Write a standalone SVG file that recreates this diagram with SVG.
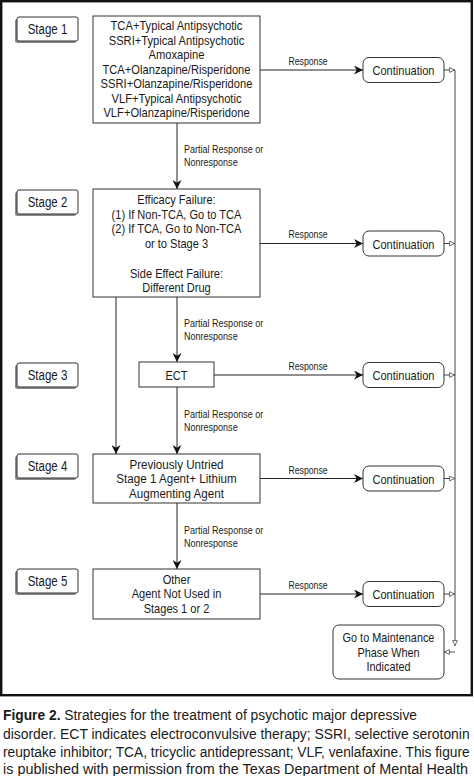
<svg xmlns="http://www.w3.org/2000/svg" width="474" height="776" viewBox="0 0 474 776">
<defs>
<style>
text{font-family:"Liberation Sans",Arial,sans-serif;fill:#1a1a1a}
.box{fill:#fff;stroke:#333;stroke-width:1}
.shadow{fill:#8a8a8a}
.t13{font-size:13px;text-anchor:middle}
.t12{font-size:12.5px;text-anchor:middle}
.stg{font-size:14px;text-anchor:middle}
.lbl{font-size:10.5px}
.cap{font-size:14.5px}
.ln{stroke:#222;stroke-width:1;fill:none}
.gl{stroke:#444;stroke-width:1;fill:none}
</style>
<marker id="fa" viewBox="0 0 10 10" refX="10" refY="5" markerWidth="10" markerHeight="9" markerUnits="userSpaceOnUse" orient="auto">
<path d="M0,0 L10,5 L0,10 L3,5 Z" fill="#111"/>
</marker>
<marker id="oa" viewBox="0 0 10 10" refX="10" refY="5" markerWidth="7" markerHeight="6" markerUnits="userSpaceOnUse" orient="auto">
<path d="M1,1 L9,5 L1,9 Z" fill="#fff" stroke="#444" stroke-width="1.3"/>
</marker>
</defs>
<rect x="0" y="0" width="474" height="776" fill="#fff"/>
<rect x="1.2" y="1.2" width="470.6" height="694" fill="none" stroke="#111" stroke-width="2.4"/>

<g id="stage1-label"><rect class="shadow" x="15" y="19" width="61" height="24" rx="2"/><rect class="box" x="17" y="17" width="61" height="24" rx="2"/><text class="stg" transform="translate(47.5 34) scale(0.82 1)">Stage 1</text></g>
<g id="stage2-label"><rect class="shadow" x="15" y="192" width="61" height="24" rx="2"/><rect class="box" x="17" y="190" width="61" height="24" rx="2"/><text class="stg" transform="translate(47.5 207) scale(0.82 1)">Stage 2</text></g>
<g id="stage3-label"><rect class="shadow" x="15" y="365" width="61" height="24" rx="2"/><rect class="box" x="17" y="363" width="61" height="24" rx="2"/><text class="stg" transform="translate(47.5 380) scale(0.82 1)">Stage 3</text></g>
<g id="stage4-label"><rect class="shadow" x="15" y="456" width="61" height="24" rx="2"/><rect class="box" x="17" y="454" width="61" height="24" rx="2"/><text class="stg" transform="translate(47.5 471) scale(0.82 1)">Stage 4</text></g>
<g id="stage5-label"><rect class="shadow" x="15" y="571" width="61" height="24" rx="2"/><rect class="box" x="17" y="569" width="61" height="24" rx="2"/><text class="stg" transform="translate(47.5 586) scale(0.82 1)">Stage 5</text></g>

<g id="connectors">
<line class="ln" x1="177" y1="123" x2="177" y2="189" marker-end="url(#fa)"/>
<line class="ln" x1="177" y1="297" x2="177" y2="362" marker-end="url(#fa)"/>
<line class="ln" x1="177" y1="387" x2="177" y2="454" marker-end="url(#fa)"/>
<line class="ln" x1="177" y1="503" x2="177" y2="569" marker-end="url(#fa)"/>
<line class="ln" x1="116" y1="297" x2="116" y2="454" marker-end="url(#fa)"/>
<line class="ln" x1="260" y1="70" x2="363" y2="70" marker-end="url(#fa)"/>
<line class="ln" x1="260" y1="243.5" x2="363" y2="243.5" marker-end="url(#fa)"/>
<line class="ln" x1="214" y1="375" x2="363" y2="375" marker-end="url(#fa)"/>
<line class="ln" x1="260" y1="478.5" x2="363" y2="478.5" marker-end="url(#fa)"/>
<line class="ln" x1="260" y1="594" x2="363" y2="594" marker-end="url(#fa)"/>
<line class="gl" x1="444" y1="70" x2="455" y2="70" marker-end="url(#oa)"/>
<line class="gl" x1="444" y1="243.5" x2="455" y2="243.5" marker-end="url(#oa)"/>
<line class="gl" x1="444" y1="375" x2="455" y2="375" marker-end="url(#oa)"/>
<line class="gl" x1="444" y1="478.5" x2="455" y2="478.5" marker-end="url(#oa)"/>
<line class="gl" x1="444" y1="594" x2="455" y2="594" marker-end="url(#oa)"/>
<line class="gl" x1="455" y1="70" x2="455" y2="646" marker-end="url(#oa)"/>
<line class="gl" x1="455" y1="652" x2="444" y2="652" marker-end="url(#oa)"/>
<g text-anchor="middle">
<text class="lbl" transform="translate(308 64.5) scale(0.83 1)">Response</text>
<text class="lbl" transform="translate(308 238) scale(0.83 1)">Response</text>
<text class="lbl" transform="translate(308 370) scale(0.83 1)">Response</text>
<text class="lbl" transform="translate(308 473.5) scale(0.83 1)">Response</text>
<text class="lbl" transform="translate(308 588.5) scale(0.83 1)">Response</text>
</g>
<g transform="translate(184 0) scale(0.86 1)">
<text class="lbl" x="0" y="153.5">Partial Response or</text>
<text class="lbl" x="0" y="166.5">Nonresponse</text>
<text class="lbl" x="0" y="327.5">Partial Response or</text>
<text class="lbl" x="0" y="340.5">Nonresponse</text>
<text class="lbl" x="0" y="418.5">Partial Response or</text>
<text class="lbl" x="0" y="431.5">Nonresponse</text>
<text class="lbl" x="0" y="534.5">Partial Response or</text>
<text class="lbl" x="0" y="547">Nonresponse</text>
</g>
</g>

<g id="stage1-box"><rect class="box" x="93" y="16" width="167" height="107"/>
<g transform="translate(176.5 0) scale(0.86 1)">
<text class="t13" x="0" y="30.5">TCA+Typical Antipsychotic</text>
<text class="t13" x="0" y="45">SSRI+Typical Antipsychotic</text>
<text class="t13" x="0" y="59.5">Amoxapine</text>
<text class="t13" x="0" y="74">TCA+Olanzapine/Risperidone</text>
<text class="t13" x="0" y="88.5">SSRI+Olanzapine/Risperidone</text>
<text class="t13" x="0" y="103">VLF+Typical Antipsychotic</text>
<text class="t13" x="0" y="117.5">VLF+Olanzapine/Risperidone</text>
</g></g>

<g id="stage2-box"><rect class="box" x="93" y="189" width="167" height="108"/>
<g transform="translate(176.5 0) scale(0.85 1)">
<text class="t13" x="0" y="204.5">Efficacy Failure:</text>
<text class="t13" x="0" y="219">(1) If Non-TCA, Go to TCA</text>
<text class="t13" x="0" y="233.5">(2) If TCA, Go to Non-TCA</text>
<text class="t13" x="0" y="248">or to Stage 3</text>
<text class="t13" x="0" y="278">Side Effect Failure:</text>
<text class="t13" x="0" y="292.5">Different Drug</text>
</g></g>

<g id="ect-box"><rect class="box" x="139" y="362" width="75" height="25"/>
<text class="t13" transform="translate(176.5 379.5) scale(0.85 1)">ECT</text></g>

<g id="stage4-box"><rect class="box" x="93" y="454" width="167" height="49"/>
<g transform="translate(176.5 0) scale(0.86 1)">
<text class="t13" x="0" y="468.5" style="font-size:13.5px">Previously Untried</text>
<text class="t13" x="0" y="483.5" style="font-size:13.5px">Stage 1 Agent+ Lithium</text>
<text class="t13" x="0" y="498" style="font-size:13.5px">Augmenting Agent</text>
</g></g>

<g id="stage5-box"><rect class="box" x="93" y="569" width="167" height="50"/>
<g transform="translate(176.5 0) scale(0.85 1)">
<text class="t13" x="0" y="584.5">Other</text>
<text class="t13" x="0" y="598.5">Agent Not Used in</text>
<text class="t13" x="0" y="613.5">Stages 1 or 2</text>
</g></g>

<g id="cont1"><rect class="box" x="363" y="57.5" width="81" height="25" rx="6"/><text class="t13" transform="translate(403.5 75) scale(0.85 1)">Continuation</text></g>
<g id="cont2"><rect class="box" x="363" y="231" width="81" height="25" rx="6"/><text class="t13" transform="translate(403.5 248.5) scale(0.85 1)">Continuation</text></g>
<g id="cont3"><rect class="box" x="363" y="362.5" width="81" height="25" rx="6"/><text class="t13" transform="translate(403.5 380) scale(0.85 1)">Continuation</text></g>
<g id="cont4"><rect class="box" x="363" y="466" width="81" height="25" rx="6"/><text class="t13" transform="translate(403.5 483.5) scale(0.85 1)">Continuation</text></g>
<g id="cont5"><rect class="box" x="363" y="581.5" width="81" height="25" rx="6"/><text class="t13" transform="translate(403.5 599) scale(0.85 1)">Continuation</text></g>

<g id="maintenance"><rect class="box" x="333" y="625" width="111" height="54" rx="6"/>
<g transform="translate(388.5 0) scale(0.87 1)">
<text class="t12" x="0" y="642.5">Go to Maintenance</text>
<text class="t12" x="0" y="657.5">Phase When</text>
<text class="t12" x="0" y="671.5">Indicated</text>
</g></g>

<g id="caption" transform="translate(3 0) scale(0.85 1)">
<text class="cap" x="0" y="720" textLength="487" lengthAdjust="spacingAndGlyphs"><tspan font-weight="bold">Figure 2.</tspan> Strategies for the treatment of psychotic major depressive</text>
<text class="cap" x="0" y="739" textLength="549" lengthAdjust="spacingAndGlyphs">disorder. ECT indicates electroconvulsive therapy; SSRI, selective serotonin</text>
<text class="cap" x="0" y="757.5" textLength="549" lengthAdjust="spacingAndGlyphs">reuptake inhibitor; TCA, tricyclic antidepressant; VLF, venlafaxine. This figure</text>
<text class="cap" x="0" y="774" textLength="547" lengthAdjust="spacingAndGlyphs">is published with permission from the Texas Department of Mental Health</text>
</g>
</svg>
